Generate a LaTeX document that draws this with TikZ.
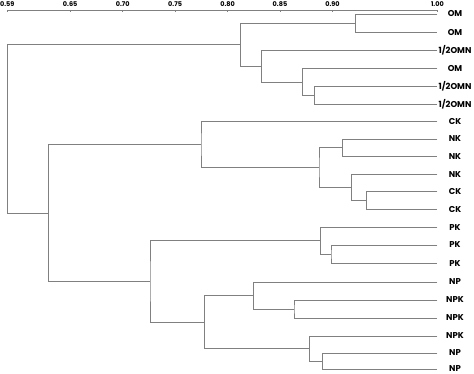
\documentclass[tikz,border=0pt]{standalone}
\usepackage{fontspec}
\setmainfont{Poppins}
\begin{document}
\begin{tikzpicture}[x=1pt,y=-1pt,
  br/.style={draw=black!50,line width=0.7pt},
  leaflab/.style={font=\fontsize{8.5}{9}\selectfont\bfseries,inner sep=0pt,anchor=center},
  axlab/.style={font=\fontsize{6.5}{7}\selectfont\bfseries,inner sep=0pt,anchor=center}]
\useasboundingbox (0,0) rectangle (474,374);
% axis
\coordinate (ax0) at (7.3,10);
\coordinate (ax1) at (437.4,10);
\draw[br] (ax0) -- (ax1);
\foreach \v/\x [count=\k] in {0.59/7.3,0.65/70.2,0.70/122.7,0.75/175.1,0.80/227.6,0.85/280.0,0.90/332.5,1.00/437.4}{
  \coordinate (tk\k) at (\x,10);
  \draw[br] (tk\k) -- ++(0,2);
  \node[axlab] (al\k) at (\x,4.5) {\v};
}
% leaves
\foreach \i/\y/\t in {0/14/OM,1/32.5/OM,2/50.5/{1/2OMN},3/68.5/OM,4/86.5/{1/2OMN},5/104.3/{1/2OMN},
  6/121.5/CK,7/139/NK,8/156.7/NK,9/174.3/NK,10/191.7/CK,11/209.5/CK,12/227.3/PK,13/245/PK,14/263.5/PK,
  15/282/NP,16/300/NPK,17/318/NPK,18/336/NPK,19/353/NP,20/369/NP}{
  \coordinate (e\i) at (437.4,\y);
  \node[leaflab] (t\i) at (455,\y) {\t};
}
% internal nodes
\coordinate (a01) at (355.3,23.25);
\coordinate (a45) at (314.7,95.4);
\coordinate (a345) at (302.7,81.95);
\coordinate (a2345) at (261.3,66.2);
\coordinate (A) at (240.7,44.7);
\coordinate (b78) at (342.3,147.85);
\coordinate (b1011) at (366.7,200.6);
\coordinate (b91011) at (351.3,187.45);
\coordinate (b711) at (319,167.65);
\coordinate (B1) at (201,144.6);
\coordinate (c1314) at (331,254.25);
\coordinate (C1) at (320.7,240.8);
\coordinate (d1617) at (294,309);
\coordinate (D1) at (253.3,295.5);
\coordinate (d1920) at (322.7,361);
\coordinate (D2) at (309.3,348.5);
\coordinate (D) at (204.7,322);
\coordinate (C) at (150,281.4);
\coordinate (B) at (48.7,213);
\coordinate (R) at (7.3,128.85);
% brackets
\draw[br] (e0) -| (a01) |- (e1);
\draw[br] (e4) -| (a45) |- (e5);
\draw[br] (e3) -| (a345) |- (a45);
\draw[br] (e2) -| (a2345) |- (a345);
\draw[br] (a01) -| (A) |- (a2345);
\draw[br] (e7) -| (b78) |- (e8);
\draw[br] (e10) -| (b1011) |- (e11);
\draw[br] (e9) -| (b91011) |- (b1011);
\draw[br] (b78) -| (b711) |- (b91011);
\draw[br] (e6) -| (B1) |- (b711);
\draw[br] (e13) -| (c1314) |- (e14);
\draw[br] (e12) -| (C1) |- (c1314);
\draw[br] (e16) -| (d1617) |- (e17);
\draw[br] (e15) -| (D1) |- (d1617);
\draw[br] (e19) -| (d1920) |- (e20);
\draw[br] (e18) -| (D2) |- (d1920);
\draw[br] (D1) -| (D) |- (D2);
\draw[br] (C1) -| (C) |- (D);
\draw[br] (B1) -| (B) |- (C);
\draw[br] (A) -| (R) |- (B);
\end{tikzpicture}
\end{document}
